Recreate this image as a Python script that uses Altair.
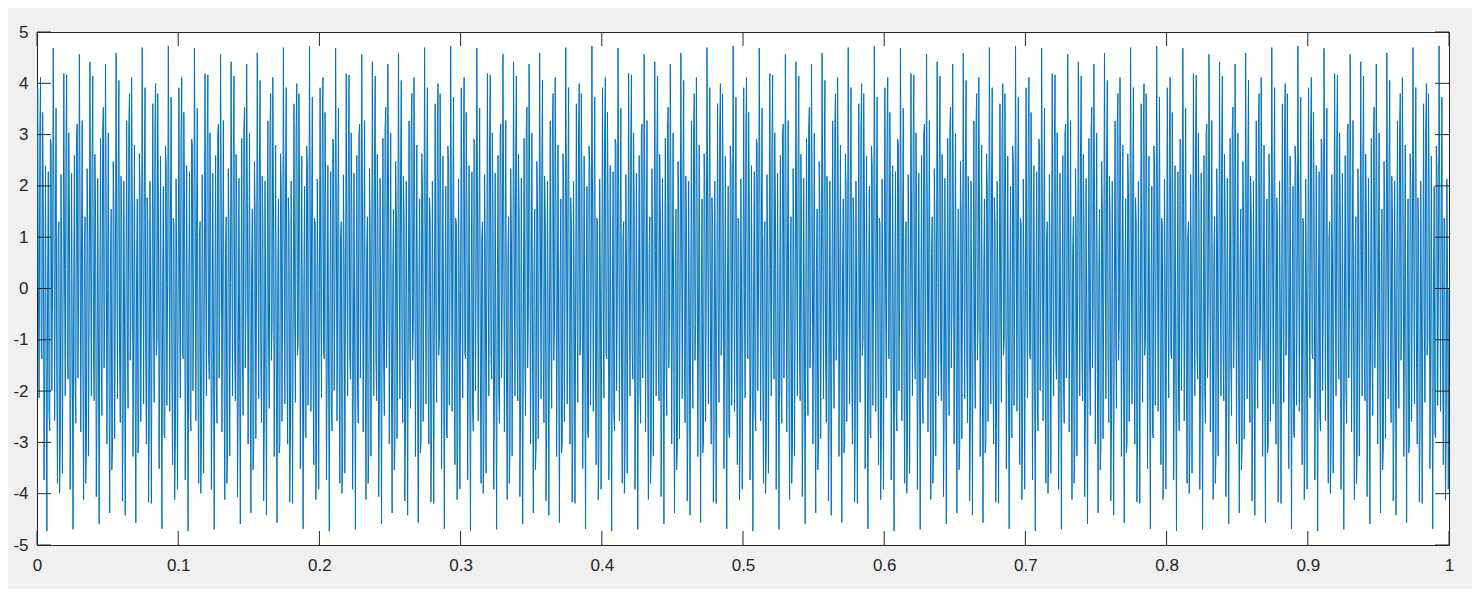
import numpy as np
import pandas as pd
import altair as alt

fs = 2000
n_samples = 2001
freqs = [110, 540]
amps = [1.3, 3.5]
phases = [0.0, 0.0]

t = np.arange(n_samples) / fs
sig = np.zeros(n_samples)
for f, a, p in zip(freqs, amps, phases):
    sig += a * np.sin(2 * np.pi * f * t + p)

xticks = [0, 0.1, 0.2, 0.3, 0.4, 0.5, 0.6, 0.7, 0.8, 0.9, 1]
yticks = [-5, -4, -3, -2, -1, 0, 1, 2, 3, 4, 5]

W, H = 1412, 513
TL = 14
AX = "#262626"

df = pd.DataFrame({"t": t, "v": sig})
xt = pd.DataFrame({"t": xticks})
yt = pd.DataFrame({"v": yticks})

xs = alt.Scale(domain=[0, 1], nice=False, zero=False)
ys = alt.Scale(domain=[-5, 5], nice=False, zero=False)
xa = alt.Axis(values=xticks, labelExpr="'' + datum.value", ticks=False, domain=False,
              grid=False, title=None, labelFontSize=17, labelFont="Liberation Sans",
              labelColor=AX, labelPadding=12, labelFlush=False, labelOverlap=False)
ya = alt.Axis(values=yticks, labelExpr="'' + datum.value", ticks=False, domain=False,
              grid=False, title=None, labelFontSize=17, labelFont="Liberation Sans",
              labelColor=AX, labelPadding=9, labelFlush=False, labelOverlap=False)

line = alt.Chart(df).mark_line(color="#0072BD", strokeWidth=1.0, clip=True).encode(
    x=alt.X("t:Q", scale=xs, axis=xa),
    y=alt.Y("v:Q", scale=ys, axis=ya),
)

left = alt.Chart(yt).mark_rule(color=AX, strokeWidth=1).encode(
    y=alt.Y("v:Q", scale=ys, axis=ya), x=alt.value(0), x2=alt.value(TL))
right = alt.Chart(yt).mark_rule(color=AX, strokeWidth=1).encode(
    y=alt.Y("v:Q", scale=ys, axis=ya), x=alt.value(W - TL), x2=alt.value(W))
bottom = alt.Chart(xt).mark_rule(color=AX, strokeWidth=1).encode(
    x=alt.X("t:Q", scale=xs, axis=xa), y=alt.value(H - TL), y2=alt.value(H))
top = alt.Chart(xt).mark_rule(color=AX, strokeWidth=1).encode(
    x=alt.X("t:Q", scale=xs, axis=xa), y=alt.value(0), y2=alt.value(TL))

chart = alt.layer(line, left, right, bottom, top).properties(
    width=W, height=H,
    background="#f0f0f0",
    padding={"left": 29, "top": 24, "right": 23, "bottom": 44},
    autosize=alt.AutoSizeParams(type="none"),
).configure_view(fill="white", stroke=AX, strokeWidth=1)

chart.save("out.html", embed_options={"renderer": "svg", "actions": False})
